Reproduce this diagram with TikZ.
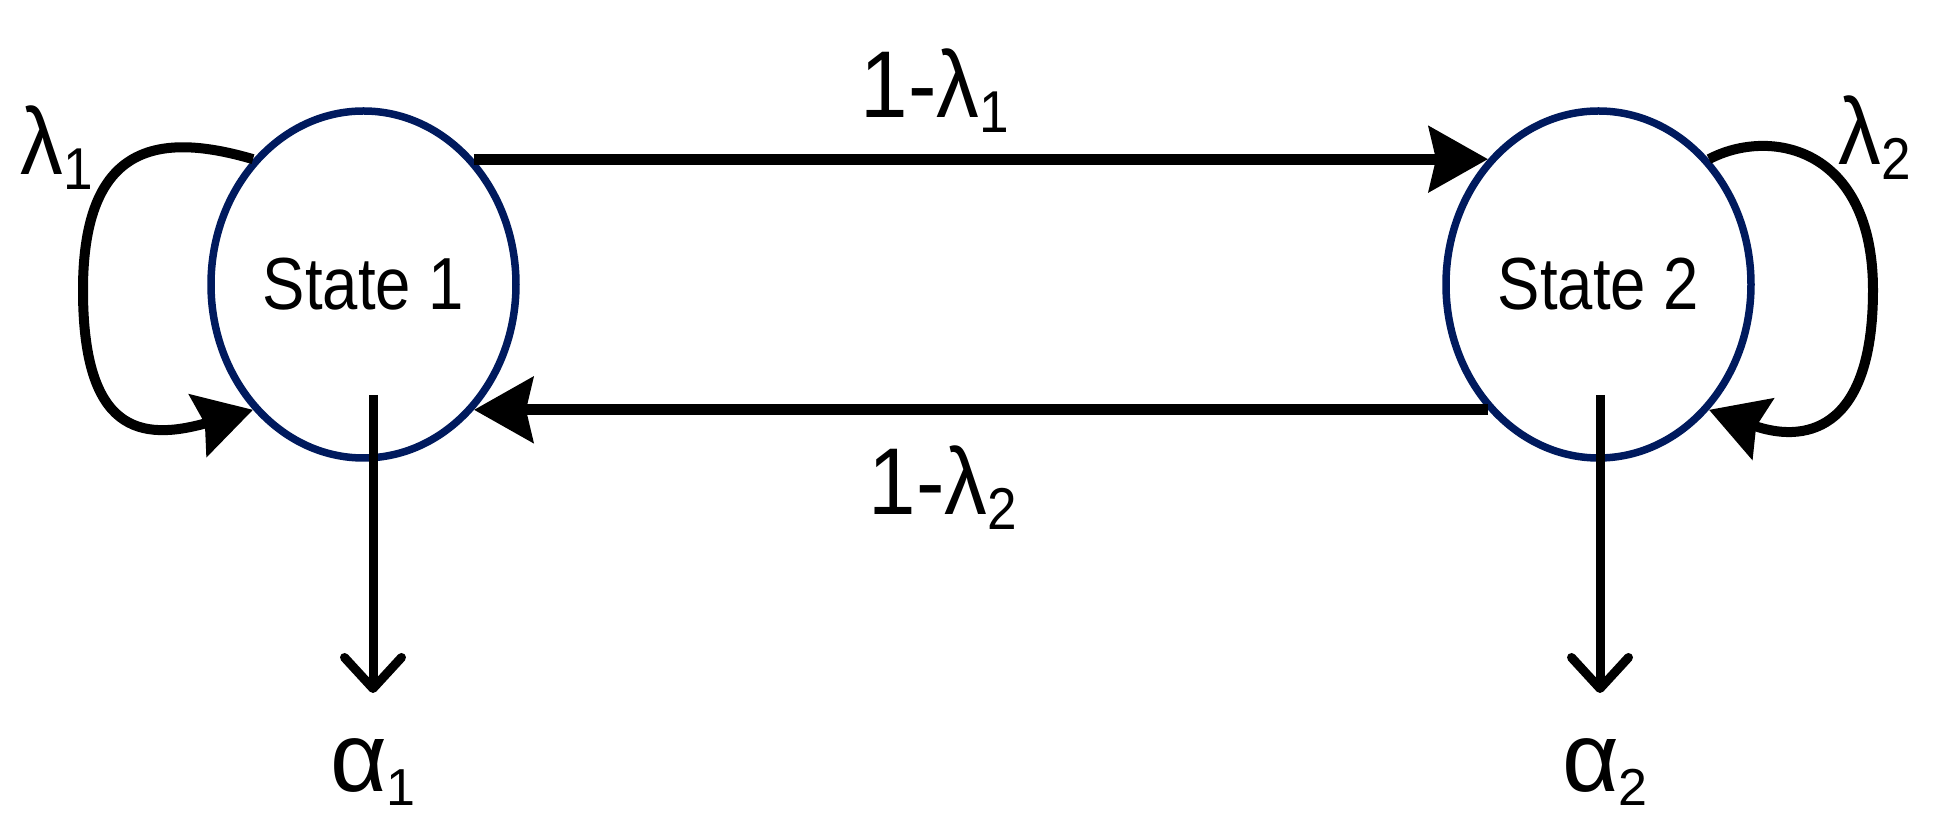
\documentclass[tikz,border=0pt]{standalone}
\usepackage{fontspec}
\setmainfont{Liberation Sans}
\newfontfamily\statefont[FakeStretch=0.86]{Liberation Sans}
\newfontfamily\labelfont[FakeStretch=0.9]{Liberation Sans}
\usetikzlibrary{arrows.meta,shapes.geometric}

\definecolor{statenavy}{RGB}{0,26,94}
\newcommand{\lsub}[1]{\raisebox{-0.15cm}{\fontsize{16.8}{18}\selectfont #1}}
\newcommand{\asub}[1]{\raisebox{-0.14cm}{\fontsize{14.8}{16}\selectfont #1}}

\begin{document}
\begin{tikzpicture}[
  state/.style={ellipse, draw=statenavy, line width=0.075cm, minimum width=3.05cm,
                minimum height=3.47cm, inner sep=0pt, font=\statefont\fontsize{21}{24}\selectfont},
  lab/.style={inner sep=0pt, anchor=base west, font=\labelfont\fontsize{27}{30}\selectfont},
  alab/.style={inner sep=0pt, anchor=north, font=\fontsize{28}{30}\selectfont},
  trans/.style={line width=0.11cm, -{Stealth[length=0.59cm,width=0.65cm,inset=0.07cm]}},
  selfloop/.style={line width=0.10cm, -{Stealth[length=0.57cm,width=0.64cm,inset=0.07cm]}},
  emit/.style={line width=0.09cm, -{Straight Barb[round,length=0.31cm,width=0.57cm]}}]
\useasboundingbox (0,0) rectangle (19.53,8.37);
\node[state] (s1)  at (3.635,5.525) {State 1};
\node[state] (s2)  at (15.985,5.525) {State 2};
\node[lab]   (l1)  at (0.20,6.62)  {λ\lsub{1}};
\node[lab]   (l2)  at (18.38,6.72) {λ\lsub{2}};
\node[lab]   (t12) at (8.60,7.19)  {1-λ\lsub{1}};
\node[lab]   (t21) at (8.68,3.22)  {1-λ\lsub{2}};
\node[alab]  (a1)  at (3.73,0.99)  {α\asub{1}};
\node[alab]  (a2)  at (16.05,0.99) {α\asub{2}};
\coordinate (o1) at (3.73,4.42);
\coordinate (o2) at (16.00,4.42);
\draw[trans] (s1.north east) -- (s2.north west);
\draw[trans] (s2.south west) -- (s1.south east);
\draw[selfloop] (s1.north west) .. controls (1.60,7.05) and (0.83,6.95) .. (0.83,5.47)
                .. controls (0.83,4.05) and (1.40,3.95) .. (s1.south west);
\draw[selfloop] (s2.north east) .. controls (17.70,7.10) and (18.73,6.90) .. (18.73,5.47)
                .. controls (18.73,4.00) and (18.00,3.95) .. (s2.south east);
\draw[emit, shorten >=0.45cm] (o1) -- (o1 |- a1.north);
\draw[emit, shorten >=0.45cm] (o2) -- (o2 |- a2.north);
\end{tikzpicture}
\end{document}
